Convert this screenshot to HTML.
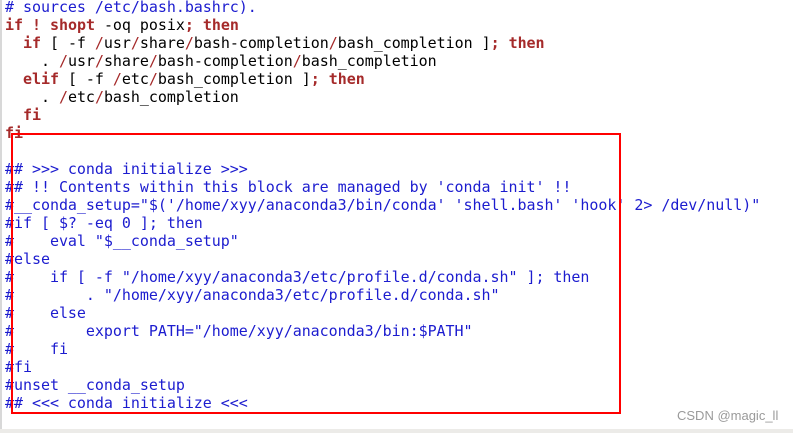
<!DOCTYPE html>
<html><head><style>
html,body{margin:0;padding:0;background:#fff;width:793px;height:433px;overflow:hidden;position:relative}
pre{position:absolute;left:5px;top:-2px;margin:0;font-family:"DejaVu Sans Mono","Liberation Mono",monospace;font-size:15px;line-height:18px;letter-spacing:-0.04px;color:#000}
.k{color:#a52a2a;font-weight:bold}
.s{color:#a52a2a}
.c{color:#1c1ccf}
#box{position:absolute;left:11px;top:133px;width:606px;height:277px;border:2px solid #f00}
#bar{position:absolute;left:0;top:0;width:2px;height:433px;background:#d8d8d8}
#bot{position:absolute;left:0;top:429px;width:793px;height:4px;background:#ecebe8}
#wm{position:absolute;left:677px;top:408px;font-family:"Liberation Sans",sans-serif;font-size:13px;color:#9a9a9a}
</style></head><body>
<div id="bar"></div>
<pre><span class="c"># sources /etc/bash.bashrc).</span>
<span class="k">if</span> <span class="k">!</span> <span class="k">shopt</span> -oq posix<span class="k">; then</span>
  <span class="k">if</span> [ -f <span class="s">/</span>usr<span class="s">/</span>share<span class="s">/</span>bash-completion<span class="s">/</span>bash_completion ]<span class="k">; then</span>
    . <span class="s">/</span>usr<span class="s">/</span>share<span class="s">/</span>bash-completion<span class="s">/</span>bash_completion
  <span class="k">elif</span> [ -f <span class="s">/</span>etc<span class="s">/</span>bash_completion ]<span class="k">; then</span>
    . <span class="s">/</span>etc<span class="s">/</span>bash_completion
  <span class="k">fi</span>
<span class="k">fi</span>

<span class="c">## &gt;&gt;&gt; conda initialize &gt;&gt;&gt;
## !! Contents within this block are managed by 'conda init' !!
#__conda_setup="$('/home/xyy/anaconda3/bin/conda' 'shell.bash' 'hook' 2&gt; /dev/null)"
#if [ $? -eq 0 ]; then
#    eval "$__conda_setup"
#else
#    if [ -f "/home/xyy/anaconda3/etc/profile.d/conda.sh" ]; then
#        . "/home/xyy/anaconda3/etc/profile.d/conda.sh"
#    else
#        export PATH="/home/xyy/anaconda3/bin:$PATH"
#    fi
#fi
#unset __conda_setup
## &lt;&lt;&lt; conda initialize &lt;&lt;&lt;</span></pre>
<div id="box"></div>
<div id="bot"></div>
<div id="wm">CSDN @magic_ll</div>
</body></html>
